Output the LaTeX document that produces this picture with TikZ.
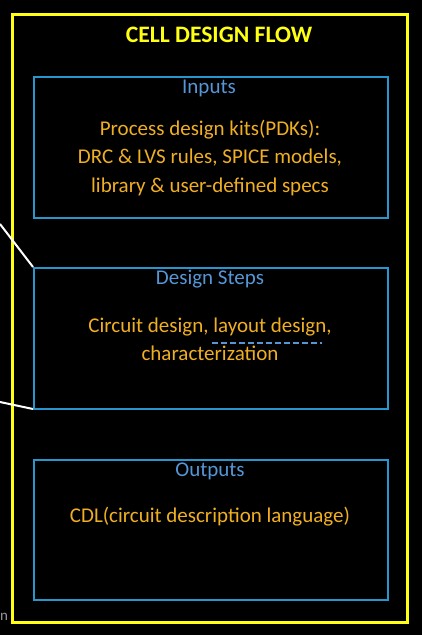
\documentclass[tikz,border=0pt]{standalone}
\usepackage{fontspec}
\setmainfont{Carlito}
\definecolor{bordyel}{RGB}{255,255,20}
\definecolor{boxblue}{RGB}{40,150,205}
\definecolor{headblue}{RGB}{85,150,215}
\definecolor{bodyorg}{RGB}{240,175,35}
\definecolor{smallgray}{RGB}{150,150,150}
\begin{document}
\begin{tikzpicture}[x=1pt,y=-1pt,
  flowbox/.style={draw=boxblue,line width=1.8pt,minimum width=354pt,minimum height=141pt,anchor=north west,inner sep=0pt},
  headtxt/.style={text=headblue,font=\fontsize{21}{24}\selectfont,inner sep=0pt},
  bodytxt/.style={text=bodyorg,font=\fontsize{21}{28.5}\selectfont,align=center,inner sep=0pt},
  wire/.style={draw=white,line width=2pt}]
\useasboundingbox[fill=black] (0,0) rectangle (422,635);
\draw[bordyel,line width=3pt] (12,14) rectangle (407,622);
\node[text=bordyel,font=\bfseries\fontsize{23.6}{27}\selectfont,inner sep=0pt] (title) at (219,35) {CELL DESIGN FLOW};
% boxes
\node[flowbox] (inbox) at (33,76) {};
\node[flowbox] (stepbox) at (33,267) {};
\node[flowbox,minimum height=140pt] (outbox) at (33,459) {};
% headings
\node[headtxt] (inhead) at (209,88) {Inputs};
\node[headtxt] (stephead) at (210,279) {Design Steps};
\node[headtxt] (outhead) at (210,471) {Outputs};
% bodies
\node[bodytxt] (inbody) at (210,158) {Process design kits(PDKs):\\DRC \& LVS rules, SPICE models,\\library \& user-defined specs};
\node[bodytxt] (stepbody) at (210,339.5) {Circuit design, layout design,\\characterization};
\node[bodytxt] (outbody) at (210,517) {CDL(circuit description language)};
% dashed underline
\coordinate (dashA) at (212,343);
\coordinate (dashB) at (322,343);
\draw[headblue,line width=1.6pt,dash pattern=on 6pt off 3pt] (dashA) -- (dashB);
% white lines at left
\coordinate (wA) at (0,224);
\coordinate (wB) at (0,402);
\coordinate (wC) at (33,409);
\draw[wire] (wA) -- (stepbox.north west);
\draw[wire] (wB) -- (wC);
\node[text=smallgray,font=\fontsize{15}{17}\selectfont,inner sep=0pt] (nchar) at (4,617) {n};
\end{tikzpicture}
\end{document}
